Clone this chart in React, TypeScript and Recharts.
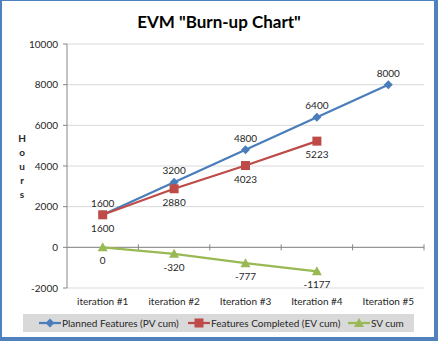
import React from 'react'
import { LineChart, Line, XAxis, YAxis, CartesianGrid, Legend, LabelList, ReferenceLine } from 'recharts'

const categories = ['iteration #1', 'iteration #2', 'Iteration #3', 'Iteration #4', 'Iteration #5']
const plannedPV = [1600, 3200, 4800, 6400, 8000]
const completedEV = [1600, 2880, 4023, 5223, null]
const scheduleSV = [0, -320, -777, -1177, null]
const yTicks = [-2000, 0, 2000, 4000, 6000, 8000, 10000]

const FONT = 'Lato, "Open Sans", sans-serif'
const BLUE = '#4a7ebb'
const RED = '#be4b48'
const GREEN = '#98b954'

const data = categories.map((name, i) => ({
  name,
  pv: plannedPV[i],
  ev: completedEV[i],
  sv: scheduleSV[i],
}))

const series = [
  { key: 'pv', label: 'Planned Features (PV cum)', color: BLUE, marker: 'diamond', left: 16 },
  { key: 'ev', label: 'Features Completed (EV cum)', color: RED, marker: 'square', left: 165 },
  { key: 'sv', label: 'SV cum', color: GREEN, marker: 'triangle', left: 325 },
]

function Marker({ cx, cy, kind, color }: any) {
  if (cx == null || cy == null || Number.isNaN(cy)) return null
  if (kind === 'diamond') {
    return <path d={`M${cx},${cy - 4.5}L${cx + 4.5},${cy}L${cx},${cy + 4.5}L${cx - 4.5},${cy}Z`} fill={color} />
  }
  if (kind === 'square') {
    return <rect x={cx - 4.5} y={cy - 4.5} width={9} height={9} fill={color} />
  }
  return <path d={`M${cx},${cy - 5}L${cx + 5},${cy + 4}L${cx - 5},${cy + 4}Z`} fill={color} />
}

function ZeroAxis(props: any) {
  const { x1, x2, y1 } = props
  const step = (x2 - x1) / categories.length
  return (
    <g>
      <line x1={x1} x2={x2} y1={y1} y2={y1} stroke="#868686" strokeWidth={1} />
      {categories.map((_, i) => (
        <line key={i} x1={x1 + step * (i + 1)} x2={x1 + step * (i + 1)} y1={y1 - 3} y2={y1 + 3} stroke="#868686" />
      ))}
    </g>
  )
}

function HoursLabel({ viewBox }: any) {
  const letters = 'Hours'.split('')
  const cy = viewBox.y + viewBox.height / 2
  return (
    <text x={22} textAnchor="middle" fontFamily={FONT} fontSize={10} fontWeight="bold" fill="#262626">
      {letters.map((ch, i) => (
        <tspan key={i} x={22} y={cy + (i - 2) * 14 + 4}>{ch}</tspan>
      ))}
    </text>
  )
}

function LegendBox() {
  return (
    <div style={{ position: 'relative', width: 391, height: 18, background: '#d9d9d9', fontFamily: FONT, fontSize: 10, color: '#262626', whiteSpace: 'nowrap' }}>
      {series.map((s) => (
        <div key={s.key} style={{ position: 'absolute', left: s.left, top: 0, height: 18, display: 'flex', alignItems: 'center' }}>
          <svg width={22} height={12}>
            <line x1={0} x2={22} y1={6} y2={6} stroke={s.color} strokeWidth={2.25} />
            <Marker cx={11} cy={6} kind={s.marker} color={s.color} />
          </svg>
          <span style={{ marginLeft: 1 }}>{s.label}</span>
        </div>
      ))}
    </div>
  )
}

export default function App() {
  return (
    <div style={{ position: 'absolute', left: 0, top: 0, width: 438, height: 341, background: '#fff' }}>
      <LineChart width={438} height={341} data={data} margin={{ top: 44, right: 14, bottom: 9, left: 0 }}>
        <text x={219} y={28} textAnchor="middle" fontFamily={FONT} fontSize={17} fontWeight="bold" fill="#000">
          EVM "Burn-up Chart"
        </text>
        <CartesianGrid vertical={false} stroke="#d9d9d9" />
        <XAxis
          dataKey="name"
          height={26}
          padding={{ left: 35.7, right: 35.7 }}
          axisLine={false}
          tickLine={false}
          tick={{ fontFamily: FONT, fontSize: 10, fill: '#262626' }}
          tickMargin={4}
        />
        <YAxis
          width={67}
          domain={[-2000, 10000]}
          ticks={yTicks}
          interval={0}
          axisLine={{ stroke: '#868686' }}
          tickLine={{ stroke: '#868686' }}
          tickSize={4}
          tickMargin={5}
          tick={{ fontFamily: FONT, fontSize: 10, fill: '#262626' }}
          label={{ content: HoursLabel }}
        />
        <ReferenceLine y={0} shape={ZeroAxis} />
        <Legend verticalAlign="bottom" height={18} wrapperStyle={{ left: 23, width: 391 }} content={() => <LegendBox />} />
        {series.map((s) => (
          <Line
            key={s.key}
            dataKey={s.key}
            stroke={s.color}
            strokeWidth={2.25}
            isAnimationActive={false}
            dot={(p: any) => <Marker key={p.index} cx={p.cx} cy={p.cy} kind={s.marker} color={s.color} />}
            activeDot={false}
          >
            <LabelList
              dataKey={s.key}
              position={s.key === 'pv' ? 'top' : 'bottom'}
              offset={s.key === 'pv' ? 8 : 10}
              style={{ fontFamily: FONT, fontSize: 10, fill: '#262626' }}
            />
          </Line>
        ))}
      </LineChart>
      <div style={{ position: 'absolute', inset: 0, boxSizing: 'border-box', borderTop: '1px solid #4f81bd', borderLeft: '2px solid #4f81bd', borderRight: '4px solid #4f81bd', borderBottom: '4px solid #4f81bd', pointerEvents: 'none' }} />
    </div>
  )
}
